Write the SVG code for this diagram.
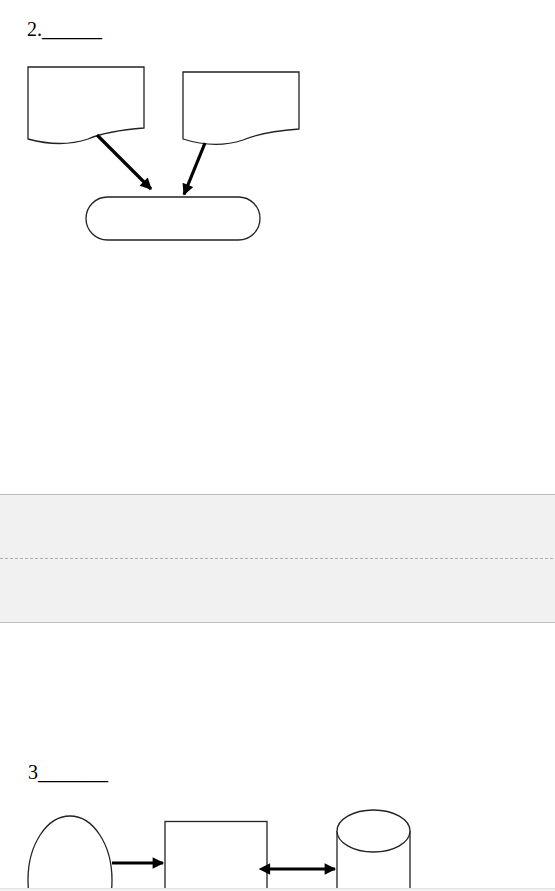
<svg xmlns="http://www.w3.org/2000/svg" width="555" height="891" viewBox="0 0 555 891">
<style>
.shape{fill:#fff;stroke:#222;stroke-width:1.3}
.conn{stroke:#000;stroke-width:3.2;fill:none}
.lbl{font-family:"Liberation Serif","Times New Roman",serif;font-size:20px;fill:#000}
</style>
<defs>
<marker id="ah" viewBox="0 0 10 10" refX="9" refY="5" markerWidth="4.2" markerHeight="3.6" orient="auto" markerUnits="strokeWidth">
<path d="M0,0 L10,5 L0,10 z" fill="#000"/>
</marker>
<marker id="ahs" viewBox="0 0 10 10" refX="1" refY="5" markerWidth="4.2" markerHeight="3.6" orient="auto-start-reverse" markerUnits="strokeWidth">
<path d="M0,0 L10,5 L0,10 z" fill="#000"/>
</marker>
</defs>
<rect x="0" y="0" width="555" height="891" fill="#fff"/>
<g id="band">
<rect x="0" y="494.5" width="555" height="128" fill="#f1f1f1"/>
<line x1="0" y1="494.5" x2="555" y2="494.5" stroke="#b9c0c8" stroke-width="1"/>
<line x1="0" y1="558.5" x2="555" y2="558.5" stroke="#aab0b6" stroke-width="1" stroke-dasharray="3,2"/>
<line x1="0" y1="622.5" x2="555" y2="622.5" stroke="#b9c0c8" stroke-width="1"/>
</g>
<g id="title2"><text class="lbl" x="27" y="36">2.______</text></g>
<g id="doc1"><path class="shape" d="M28,67 H144 V128 C118,130 102,133 88,139 C70,145 50,145 28,139 Z"/></g>
<g id="doc2"><path class="shape" d="M183,72 H299 V129 C273,131 257,134 243,140 C225,146 205,146 183,139 Z"/></g>
<g id="term1"><rect class="shape" x="86" y="197" width="174" height="43" rx="21.5" ry="21.5"/></g>
<g id="title3"><text class="lbl" x="28" y="779">3_______</text></g>
<g id="ellipse3"><ellipse class="shape" cx="70" cy="880" rx="42" ry="64"/></g>
<g id="rect3"><rect class="shape" x="165" y="821.5" width="102" height="100"/></g>
<g id="cyl3">
<path class="shape" d="M337,831 V930 H410 V831"/>
<ellipse class="shape" cx="373.5" cy="831" rx="36.5" ry="21"/>
</g>
<g id="connectors">
<line class="conn" x1="97" y1="135" x2="151" y2="189" marker-end="url(#ah)"/>
<line class="conn" x1="205" y1="143" x2="184" y2="194.5" marker-end="url(#ah)"/>
<line class="conn" x1="112" y1="863" x2="163" y2="863" marker-end="url(#ah)"/>
<line class="conn" x1="269" y1="869" x2="335" y2="869" marker-start="url(#ahs)" marker-end="url(#ah)"/>
</g>
<g id="bottomband">
<rect x="0" y="888.5" width="555" height="3" fill="#f1f1f1"/>
<line x1="0" y1="888.5" x2="555" y2="888.5" stroke="#e2e2e2" stroke-width="1"/>
</g>
</svg>
